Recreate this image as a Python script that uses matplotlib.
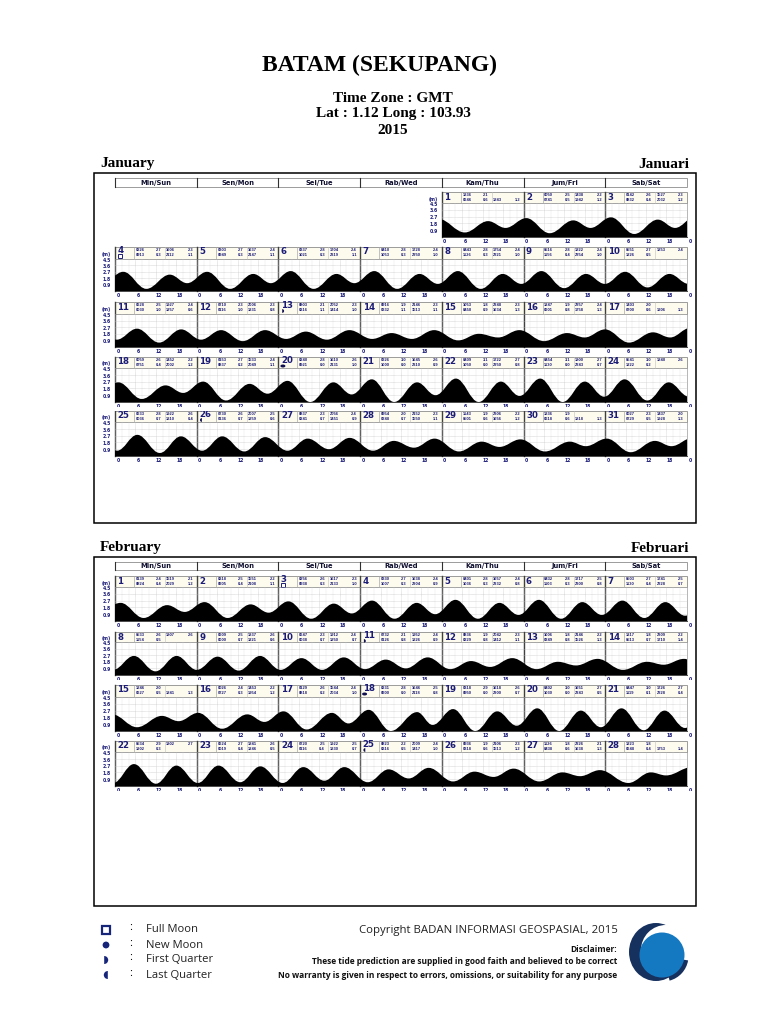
import matplotlib
matplotlib.use("Agg")
import matplotlib.pyplot as plt
from matplotlib.path import Path
from matplotlib.patches import PathPatch, Rectangle, Circle, Wedge, Ellipse
from matplotlib.transforms import ScaledTranslation

NAVY = "#1c1c78"
W, H = 768, 1024

DAY_NAMES = ["Min/Sun", "Sen/Mon", "Sel/Tue", "Rab/Wed", "Kam/Thu", "Jum/Fri", "Sab/Sat"]
Y_TICKS = [0.9, 1.8, 2.7, 3.6, 4.5]
HOUR_TICKS = [0, 6, 12, 18]

# Each day: top-left, bottom-left, top-right, bottom-right cell of the day's table
JAN_TIMES = [
 ["1336","0646","","1843"],["0050","0741","1438","1942"],["0142","0832","1527","2032"],
 ["0226","0913","1606","2112"],["0303","0949","1637","2147"],["0337","1021","1704","2219"],
 ["0410","1053","1728","2250"],["0443","1126","1754","2321"],["0516","1156","1822","2354"],
 ["0551","1226","1853",""],["0628","0030","1927","1257"],["0710","0116","2006","1331"],
 ["0803","0216","2052","1414"],["0916","0332","2146","1513"],["1053","0450","2248","1634"],
 ["1247","0601","2357","1758"],["1403","0700","","1906"],["0059","0751","1452","2002"],
 ["0153","0837","1533","2049"],["0240","0921","1610","2131"],["0326","1000","1645","2210"],
 ["0409","1050","1722","2250"],["0454","1130","1800","2343"],["0541","1222","1840",""],
 ["0633","0036","1922","1310"],["0730","0136","2007","1359"],["0837","0241","2056","1451"],
 ["0954","0348","2152","1550"],["1143","0501","2306","1656"],["1336","0618","","1818"],
 ["0027","0729","1437","1928"],
]
JAN_HEIGHTS = [
 [2.1,0.6,None,1.2],[2.5,0.5,2.2,1.2],[2.6,0.4,2.3,1.2],[2.7,0.3,2.3,1.1],[2.7,0.3,2.4,1.1],
 [2.8,0.3,2.4,1.1],[2.8,0.3,2.4,1.0],[2.8,0.3,2.4,1.0],[2.8,0.4,2.4,1.0],[2.7,0.5,2.4,None],
 [2.5,1.0,2.4,0.6],[2.3,1.0,2.3,0.8],[2.1,1.1,2.3,1.0],[1.9,1.1,2.3,1.1],[1.8,0.9,2.3,1.3],
 [1.9,0.8,2.4,1.3],[2.0,0.6,None,1.3],[2.6,0.4,2.2,1.2],[2.7,0.2,2.4,1.1],[2.8,0.0,2.6,1.0],
 [3.0,0.0,2.6,0.9],[3.1,0.0,2.7,0.8],[3.1,0.0,2.7,0.7],[3.0,0.2,2.6,None],[2.8,0.7,2.6,0.4],
 [2.6,0.7,2.5,0.6],[2.3,0.7,2.4,0.9],[2.0,0.7,2.3,1.1],[1.9,0.6,2.2,1.2],[1.9,0.6,None,1.3],
 [2.3,0.5,2.0,1.3],
]
FEB_TIMES = [
 ["0139","0824","1519","2029"],["0218","0905","1551","2108"],["0256","0938","1617","2133"],
 ["0330","1007","1638","2204"],["0401","1036","1657","2232"],["0432","1103","1717","2300"],
 ["0503","1130","1741","2328"],["0533","1154","1807",""],["0609","0000","1837","1221"],
 ["0647","0038","1912","1250"],["0732","0126","1952","1326"],["0836","0229","2042","1412"],
 ["1006","0349","2146","1526"],["1217","0513","2309","1710"],["1346","0627","","1841"],
 ["0026","0727","1453","1954"],["0129","0818","1544","2034"],["0231","0900","1646","2118"],
 ["0318","0950","1618","2200"],["0402","1030","1651","2243"],["0447","1119","1726","2328"],
 ["0534","1202","1802",""],["0624","0019","1841","1246"],["0720","0116","1922","1330"],
 ["0823","0216","2009","1417"],["0936","0318","2106","1513"],["1126","0438","2226","1638"],
 ["1323","0648","","1753"],
]
FEB_HEIGHTS = [
 [2.4,0.4,2.1,1.2],[2.5,0.4,2.2,1.1],[2.6,0.3,2.3,1.0],[2.7,0.3,2.4,0.9],[2.8,0.3,2.4,0.8],
 [2.8,0.3,2.5,0.8],[2.7,0.4,2.5,0.7],[2.6,0.5,2.6,None],[2.5,0.7,2.6,0.6],[2.3,0.7,2.4,0.7],
 [2.1,0.8,2.4,0.9],[1.9,0.8,2.3,1.1],[1.8,0.8,2.2,1.3],[1.8,0.7,2.2,1.4],[2.0,0.5,None,1.3],
 [2.4,0.3,2.2,1.2],[2.6,0.2,2.4,1.0],[2.8,0.0,2.5,0.8],[2.9,0.0,2.6,0.7],[3.0,0.0,2.7,0.5],
 [3.0,0.1,2.7,0.4],[2.9,0.3,2.7,None],[2.7,0.4,2.6,0.5],[2.5,0.4,2.5,0.7],[2.2,0.5,2.4,1.0],
 [1.9,0.6,2.3,1.2],[1.8,0.6,2.1,1.3],[1.8,0.4,None,1.4],
]
# Tide just outside each month (hour offset from the month's start, height in m)
JAN_LEAD = (-1.0, 2.4)
JAN_TRAIL = (745.65, 2.4)
FEB_LEAD = (-4.5, 1.3)
FEB_TRAIL = (673.5, 2.5)

JAN_MOONS = {4: "full", 13: "first", 20: "new", 26: "last"}
FEB_MOONS = {3: "full", 11: "first", 18: "new", 25: "last"}

# layout in reference pixels
COL_X = 115.0
COL_W = 81.7
JAN_ROWS = [(192, 203, 237), (247, 259, 291), (302, 314, 347), (357, 368, 402), (411, 422, 456)]
FEB_ROWS = [(576, 587, 621), (632, 642, 675), (685, 697, 731), (741, 752, 786)]
JAN_CUT_ROWS = [3]
FEB_CUT_ROWS = [1, 3]

fig = plt.figure(figsize=(W / 100, H / 100), dpi=100, facecolor="white")

def add_px_axes(x0, y0, x1, y1, **kw):
    return fig.add_axes([x0 / W, 1 - y1 / H, (x1 - x0) / W, (y1 - y0) / H], **kw)

bg = add_px_axes(0, 0, W, H)
bg.set_xlim(0, W)
bg.set_ylim(H, 0)
bg.axis("off")

def txt(x, y, s, **kw):
    kw.setdefault("va", "center")
    bg.text(x, y, s, **kw)

SERIF = "Liberation Serif"
txt(379, 65, "BATAM (SEKUPANG)", family=SERIF, weight="bold", size=17, ha="center")
txt(393, 98, "Time Zone : GMT", family=SERIF, weight="bold", size=11, ha="center")
txt(393, 114, "Lat : 1.12 Long : 103.93", family=SERIF, weight="bold", size=11, ha="center")
txt(393, 130, "2015", family=SERIF, weight="bold", size=11, ha="center")
txt(100, 164, "January", family=SERIF, weight="bold", size=11)
txt(689, 164, "Januari", family=SERIF, weight="bold", size=11, ha="right")
txt(100, 548, "February", family=SERIF, weight="bold", size=11)
txt(689, 548, "Februari", family=SERIF, weight="bold", size=11, ha="right")


def hours(t, day):
    return (day - 1) * 24 + int(t[:2]) + int(t[2:]) / 60


def tide_path(times, heights, lead, trail):
    pts = [lead]
    for i, (ts, hs) in enumerate(zip(times, heights)):
        pts += sorted((hours(t, i + 1), h) for t, h in zip(ts, hs) if t)
    pts.append(trail)
    base = -1.0
    verts = [(pts[0][0], base), pts[0]]
    codes = [Path.MOVETO, Path.LINETO]
    for (t0, h0), (t1, h1) in zip(pts[:-1], pts[1:]):
        k = 0.38 * (t1 - t0)
        verts += [(t0 + k, h0), (t1 - k, h1), (t1, h1)]
        codes += [Path.CURVE4] * 3
    verts += [(pts[-1][0], base), (pts[0][0], base)]
    codes += [Path.LINETO, Path.CLOSEPOLY]
    return Path(verts, codes)


def moon(x, y, kind):
    if kind == "full":
        bg.add_patch(Rectangle((x - 2, y - 1.7), 4, 3.4, fc="white", ec=NAVY, lw=0.7))
    elif kind == "new":
        bg.add_patch(Ellipse((x, y), 5, 3, fc="#101050", ec="none"))
    elif kind == "first":
        bg.add_patch(Wedge((x - 0.7, y), 1.9, -90, 90, fc="#101050", ec="none"))
    else:
        bg.add_patch(Wedge((x + 0.7, y), 1.9, 90, 270, fc="#101050", ec="none"))


def draw_month(frame_top, frame_bottom, head_top, head_bottom, rows, times, heights, lead, trail, moons, cut_rows):
    bg.add_patch(Rectangle((94, frame_top), 602, frame_bottom - frame_top, fc="white", ec="black", lw=1.1))
    for c, name in enumerate(DAY_NAMES):
        x = COL_X + c * COL_W
        bg.add_patch(Rectangle((x, head_top), COL_W, head_bottom - head_top, fc="white", ec="#8c8c8c", lw=0.6))
        bg.plot([x, x], [head_top, head_bottom], color="#303030", lw=0.8)
        txt(x + COL_W / 2, (head_top + head_bottom) / 2, name, family="DejaVu Sans", weight="bold", size=4.9, ha="center", color="#101030")

    path = tide_path(times, heights, lead, trail)
    day = 1
    for r, (tab_top, tab_bot, plot_bot) in enumerate(rows):
        first_col = 4 if (r == 0 and len(rows) == 5) else 0
        ncols = 7 - first_col
        x0 = COL_X + first_col * COL_W
        x1 = COL_X + 7 * COL_W
        start = (day - 1) * 24
        ax = add_px_axes(x0, tab_bot, x1, plot_bot, zorder=3)
        ax.set_xlim(start, start + ncols * 24)
        ax.set_ylim(0, 4.5)
        ax.patch.set_alpha(0)
        ax.add_patch(PathPatch(path, fc="black", ec="none", zorder=3))
        ax.set_xticks([start + d * 24 + h for d in range(ncols) for h in HOUR_TICKS] + [start + ncols * 24])
        ax.set_xticklabels([str(h) for d in range(ncols) for h in HOUR_TICKS] + ["0"], family="DejaVu Sans", weight="bold", size=3.3, color=NAVY)
        ax.set_xticks([start + 2 * i for i in range(ncols * 12)], minor=True)
        ax.set_yticks(Y_TICKS)
        ax.set_yticklabels([f"{v:.1f}" for v in Y_TICKS], family="DejaVu Sans", weight="bold", size=3.3, color=NAVY)
        ax.tick_params(axis="both", which="both", length=0, pad=2.9)
        ax.tick_params(axis="x", pad=1.6)
        shift_x = ScaledTranslation(0.03, 0, fig.dpi_scale_trans)
        for lbl in ax.get_xticklabels():
            lbl.set_transform(lbl.get_transform() + shift_x)
        shift_y = ScaledTranslation(0, -0.007, fig.dpi_scale_trans)
        for lbl in ax.get_yticklabels():
            lbl.set_transform(lbl.get_transform() + shift_y)
        ax.grid(True, which="major", color="#bdbdbd", lw=0.4, ls=(0, (1, 1)), zorder=1)
        ax.grid(True, axis="x", which="minor", color="#d4d4d4", lw=0.35, ls=(0, (1, 1)), zorder=1)
        ax.set_axisbelow(True)
        for s in ("top", "right", "left"):
            ax.spines[s].set_visible(False)
        ax.spines["bottom"].set_color("black")
        ax.spines["bottom"].set_linewidth(0.5)
        bg.plot([x1, x1], [tab_bot, plot_bot], color="#9a9a9a", lw=0.5)
        txt(x0 - 4, (tab_top + tab_bot) / 2 + 1.5, "(m)", family="DejaVu Sans", weight="bold", size=3.3, ha="right", color=NAVY)
        if r in cut_rows:
            fig.add_artist(Rectangle((x0 - 2, plot_bot + 4.5), x1 - x0 + 8, 4, transform=bg.transData, fc="white", ec="none", zorder=10))

        for c in range(first_col, 7):
            x = COL_X + c * COL_W
            ts, hs = times[day - 1], heights[day - 1]
            bg.add_patch(Rectangle((x, tab_top), COL_W, tab_bot - tab_top, fc="#fdfbee", ec="#8c8c8c", lw=0.6))
            bg.plot([x + 19, x + 19], [tab_top, tab_bot], color="#a8a8a8", lw=0.5)
            bg.plot([x + 50, x + 50], [tab_top, tab_bot], color="#c0c0c0", lw=0.4)
            bg.plot([x, x], [tab_top, plot_bot], color="#404040", lw=1.0, zorder=5)
            has_moon = day in moons
            txt(x + 2.5, tab_top + (3.6 if has_moon else 5), str(day), family="DejaVu Sans", weight="bold", size=6.2, color=NAVY)
            if has_moon:
                moon(x + 4.5, tab_top + 9, moons[day])
            for i, (t, h) in enumerate(zip(ts, hs)):
                if not t:
                    continue
                tx = x + (20.7 if i < 2 else 51.3)
                hx = x + (46.7 if i < 2 else 78.7)
                ty = tab_top + (2.9 if i % 2 == 0 else 7.6)
                txt(tx, ty, t, family="Liberation Sans", weight="bold", size=2.9, color=NAVY)
                txt(hx, ty, f"{h:.1f}", family="Liberation Sans", weight="bold", size=2.9, ha="right", color=NAVY)
            day += 1


draw_month(173, 523, 178, 187, JAN_ROWS, JAN_TIMES, JAN_HEIGHTS, JAN_LEAD, JAN_TRAIL, JAN_MOONS, JAN_CUT_ROWS)
draw_month(557, 906, 562, 570, FEB_ROWS, FEB_TIMES, FEB_HEIGHTS, FEB_LEAD, FEB_TRAIL, FEB_MOONS, FEB_CUT_ROWS)

# legend
LEG_LABELS = ["Full Moon", "New Moon", "First Quarter", "Last Quarter"]
LEG_Y = [930, 945, 960, 975]
FOOT = "Open Sans"
for lab, y, kind in zip(LEG_LABELS, LEG_Y, ["full", "new", "first", "last"]):
    if kind == "full":
        bg.add_patch(Rectangle((102, y - 4), 8, 7.5, fc="white", ec="#16257a", lw=1.6))
    elif kind == "new":
        bg.add_patch(Circle((106, y), 3.4, fc="#16257a", ec="none"))
    elif kind == "first":
        bg.add_patch(Wedge((104.2, y), 4, -90, 90, fc="#16257a", ec="none"))
    else:
        bg.add_patch(Wedge((107.8, y), 4, 90, 270, fc="#16257a", ec="none"))
    txt(129, y - 2, ":", family=FOOT, size=8)
    txt(146, y, lab, family=FOOT, size=8.1, color="#222222")

txt(618, 930, "Copyright BADAN INFORMASI GEOSPASIAL, 2015", family=FOOT, size=8.2, ha="right", color="#222222")
txt(617, 950, "Disclaimer:", family=FOOT, size=6, weight="bold", ha="right", color="#111111")
txt(617, 962, "These tide prediction are supplied in good faith and believed to be correct", family=FOOT, size=6, weight="bold", ha="right", color="#111111")
txt(617, 975, "No warranty is given in respect to errors, omissions, or suitability for any purpose", family=FOOT, size=6, weight="bold", ha="right", color="#111111")

# logo
bg.add_patch(Ellipse((656, 952), 54, 58, fc="#17315f", ec="none"))
bg.add_patch(Circle((666, 950), 25, fc="white", ec="none"))
bg.add_patch(Wedge((663, 956), 25.5, 10, 75, fc="#17315f", ec="none"))
bg.add_patch(Circle((662, 955), 22.5, fc="#1579c2", ec="none"))

fig.savefig("out.png", dpi=100, facecolor="white")
